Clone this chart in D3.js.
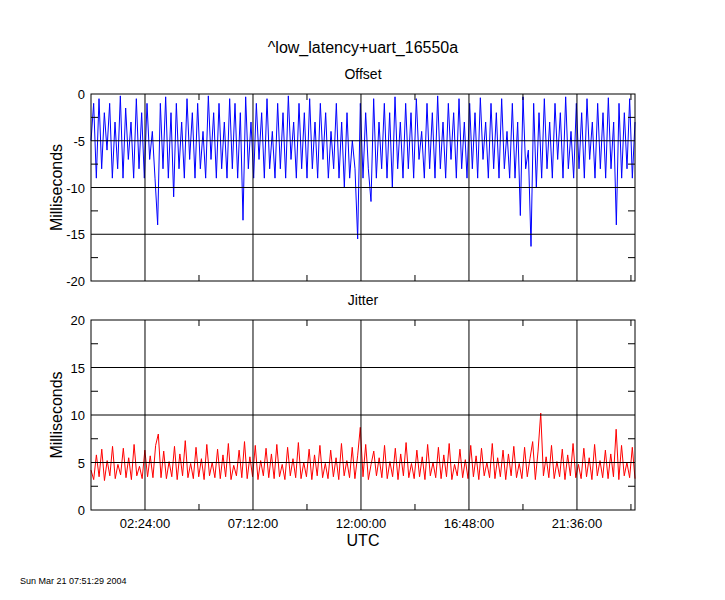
<!DOCTYPE html>
<html><head><meta charset="utf-8">
<script src="https://cdn.jsdelivr.net/npm/d3@7"></script>
<style>body{margin:0;background:#fff}text{font-family:"Liberation Sans",Arial,sans-serif}</style>
</head><body><svg id="c" width="725" height="600"></svg>
<script>
const title="^low_latency+uart_16550a";
const stamp="Sun Mar 21 07:51:29 2004";
const tickHours=[2.4,7.2,12,16.8,21.6];
const tickLabels=["02:24:00","07:12:00","12:00:00","16:48:00","21:36:00"];
const spanHours=24.18;
// offset samples in ms, evenly spaced across the day
const offset=[-5,-1,-9,-0.5,-8,-2,-6,-1,-9,-3,-8,-0.2,-9,-1.5,-7,-3,-9,-0.5,-8,-2,-9,-1,-7,-4,-9,-14,-1,-8,-0.3,-9,-2,-11,-1,-8,-3,-9,-0.5,-7,-2,-9,-1,-8,-4,-9,-0.2,-7,-2,-9,-1,-8,-3,-9,-0.5,-8,-1,-9,-2,-13.5,-0.3,-8,-3,-9,-1,-7,-2,-9,-0.5,-8,-4,-9,-1,-8,-2,-9,-0.2,-7,-3,-9,-1,-8,-2,-9,-0.5,-8,-3,-9,-1,-7,-2,-9,-4,-8,-1,-9,-3,-10,-2,-9,-5,-8,-15.5,-1,-9,-2,-8,-11.5,-0.5,-9,-3,-8,-1,-9,-2,-10,-0.3,-8,-3,-9,-1,-8,-2,-9,-0.5,-7,-4,-9,-1,-8,-2,-9,-0.2,-8,-3,-9,-1,-7,-2,-9,-0.5,-8,-3,-9,-1,-8,-2,-9,-0.4,-7,-3,-9,-1,-8,-2,-9,-0.5,-8,-4,-9,-1,-9,-3,-13,-0.3,-8,-6,-16.3,-1,-10,-2,-9,-0.5,-8,-3,-9,-1,-7,-2,-9,-0.3,-8,-4,-9,-1,-8,-2,-9,-0.5,-7,-3,-9,-1,-8,-2,-9,-0.4,-8,-3,-14,-1,-9,-2,-8,-0.5,-9,-3];
const jitter=[4.2,3.2,5.8,3.5,6.4,3.1,5.2,3.6,6.7,3.3,4.8,3.7,6.5,3.4,5.5,3.2,6.9,3.6,4.6,3.3,6.3,3.5,5.7,3.4,6.8,8.0,3.4,6.2,3.3,5.1,3.5,6.7,3.2,5.9,3.6,7.3,3.4,4.9,3.3,6.6,3.5,5.4,3.2,6.9,3.6,5.0,3.4,6.4,3.3,5.8,3.5,7.0,3.2,4.7,3.6,6.3,3.4,7.2,3.3,5.6,3.5,6.8,3.2,5.2,3.6,6.5,3.4,5.9,3.3,6.9,3.5,4.8,3.2,6.6,3.6,5.4,3.4,7.1,3.3,5.0,3.5,6.4,3.2,5.8,3.6,6.8,3.4,4.9,3.3,6.3,3.5,5.5,3.2,7.0,3.6,5.2,3.4,6.6,3.3,5.7,8.7,3.5,6.9,3.2,4.8,6.2,3.6,5.5,3.4,6.8,3.3,5.1,3.5,6.5,3.2,5.9,3.6,7.1,3.4,4.9,3.3,6.3,3.5,5.6,3.2,6.9,3.6,5.0,3.4,6.6,3.3,5.8,3.5,7.0,3.2,4.8,3.6,6.4,3.4,5.3,3.3,6.8,3.5,5.7,3.2,6.5,3.6,5.0,3.4,7.0,3.3,5.5,3.5,6.3,3.2,5.9,3.6,6.7,3.4,4.9,3.3,6.6,3.5,5.4,7.2,3.2,6.2,10.2,3.6,5.6,3.4,6.8,3.3,5.1,3.5,6.4,3.2,5.8,3.6,7.0,3.4,4.8,3.3,6.5,3.5,5.5,3.2,6.9,3.6,5.2,3.4,6.3,3.3,5.9,3.5,8.5,3.2,6.8,3.6,5.0,3.4,6.6,3.3];

const svg=d3.select('#c');
const x=d3.scaleLinear().domain([0,spanHours]).range([91,635]);

svg.append('text').attr('x',363).attr('y',53).attr('text-anchor','middle').attr('font-size',16).text(title);
svg.append('text').attr('x',20).attr('y',584).attr('font-size',9).text(stamp);
svg.append('text').attr('x',363).attr('y',546).attr('text-anchor','middle').attr('font-size',16).text('UTC');

function panel(top,bottom,dom,data,color,name,showX){
	const y=d3.scaleLinear().domain(dom).range([bottom,top]);
	const g=svg.append('g');
	g.append('text').attr('x',363).attr('y',top-15).attr('text-anchor','middle').attr('font-size',14).text(name);
	g.append('text').attr('transform',`translate(62,${(top+bottom)/2}) rotate(-90)`).attr('text-anchor','middle').attr('font-size',16).text('Milliseconds');
	const yt=d3.range(dom[0],dom[1]+0.1,5);
	// data line
	const step=spanHours/(data.length-1);
	g.append('path').datum(data)
		.attr('d',d3.line().x((d,i)=>x(i*step)).y(d=>y(d)))
		.attr('fill','none').attr('stroke',color).attr('stroke-width',1);
	// grid
	g.selectAll('.hg').data(yt.slice(1,-1)).enter().append('line')
		.attr('x1',91).attr('x2',635).attr('y1',d=>y(d)).attr('y2',d=>y(d)).attr('stroke','#000');
	g.selectAll('.vg').data(tickHours).enter().append('line')
		.attr('y1',top).attr('y2',bottom).attr('x1',d=>x(d)).attr('x2',d=>x(d)).attr('stroke','#000');
	// minor ticks
	const my=d3.range(dom[0]+2.5,dom[1],5);
	my.forEach(v=>{
		g.append('line').attr('x1',91).attr('x2',98).attr('y1',y(v)).attr('y2',y(v)).attr('stroke','#000');
		g.append('line').attr('x1',628).attr('x2',635).attr('y1',y(v)).attr('y2',y(v)).attr('stroke','#000');
	});
	[4.8,9.6,14.4,19.2,24].forEach(h=>{
		g.append('line').attr('x1',x(h)).attr('x2',x(h)).attr('y1',top).attr('y2',top+6).attr('stroke','#000');
		g.append('line').attr('x1',x(h)).attr('x2',x(h)).attr('y1',bottom).attr('y2',bottom-6).attr('stroke','#000');
	});
	g.append('rect').attr('x',91).attr('y',top).attr('width',544).attr('height',bottom-top)
		.attr('fill','none').attr('stroke','#000');
	g.selectAll('.yl').data(yt).enter().append('text')
		.attr('x',85).attr('y',d=>y(d)+5).attr('text-anchor','end').attr('font-size',13).text(d=>d);
	if(showX){
		g.selectAll('.xl').data(tickHours).enter().append('text')
			.attr('x',d=>x(d)).attr('y',bottom+18).attr('text-anchor','middle').attr('font-size',13)
			.text((d,i)=>tickLabels[i]);
	}
}
panel(94,281,[-20,0],offset,'#0000ff','Offset',false);
panel(320,510,[0,20],jitter,'#ff0000','Jitter',true);
</script></body></html>
